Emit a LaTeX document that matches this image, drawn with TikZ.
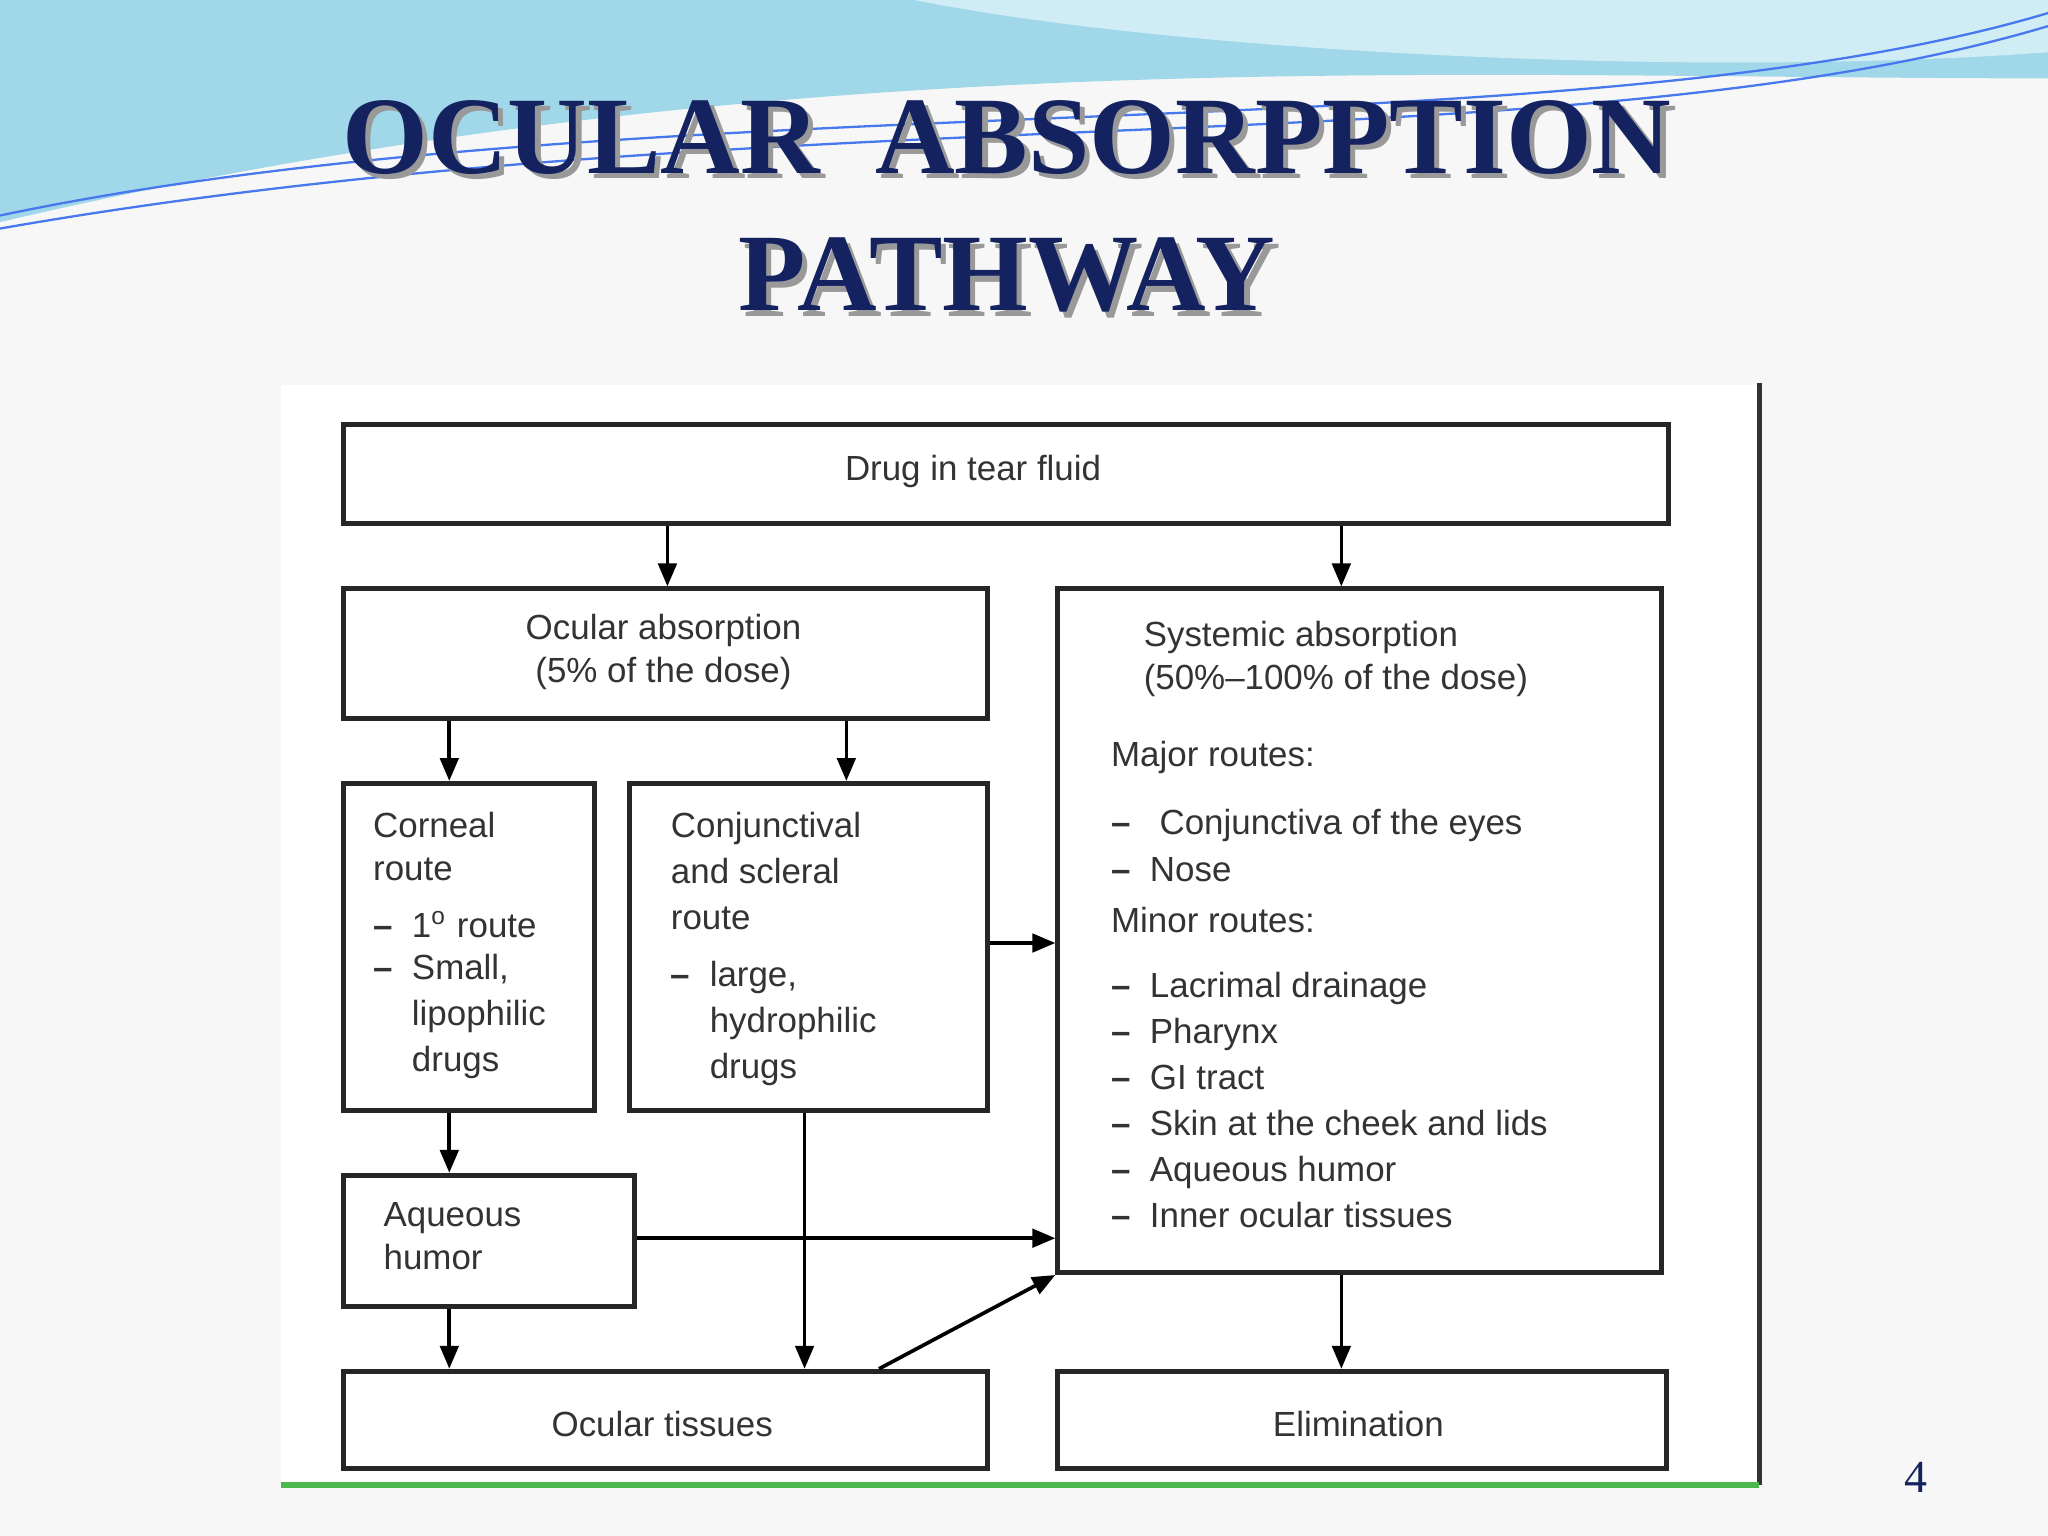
\documentclass[tikz,border=0pt]{standalone}
\usepackage{fontspec}
\setmainfont{Liberation Serif}
\newfontfamily\boxfont{Liberation Sans}
\usetikzlibrary{arrows.meta}
\definecolor{navy}{RGB}{20,35,95}
\definecolor{wave}{RGB}{120,200,225}
\newcommand{\dsh}{\textbf{–}}
\begin{document}
\begin{tikzpicture}[x=0.01cm,y=-0.01cm,
  bx/.style={draw=black!85,line width=1.1pt,fill=white,anchor=north west,inner sep=0pt},
  tx/.style={font=\boxfont\fontsize{7.6}{9.3}\selectfont,text=black!80,align=left,anchor=north west,inner sep=0pt},
  ar/.style={line width=0.8pt,-{Triangle[length=5pt,width=4pt]}}]
\useasboundingbox (0,0) rectangle (1568,1176);
\fill[black!3] (0,0) rectangle (1568,1176);
% top wave
\fill[wave!70] (0,0) -- (1568,0) -- (1568,60) .. controls (1100,60) and (600,30) .. (0,170) -- cycle;
\fill[wave!35] (700,0) -- (1568,0) -- (1568,40) .. controls (1300,60) and (900,40) .. (700,0) -- cycle;
\draw[wave!60!blue,line width=0.5pt] (0,165) .. controls (500,60) and (1200,120) .. (1568,10);
\draw[wave!60!blue,line width=0.5pt] (0,175) .. controls (600,70) and (1200,130) .. (1568,20);
% title
\node[font=\bfseries\fontsize{24}{30}\selectfont,text=black!40,align=center] at (775,162) {OCULAR\ \ ABSORPPTION\\PATHWAY};
\node[font=\bfseries\fontsize{24}{30}\selectfont,text=navy,align=center] at (771,158) {OCULAR\ \ ABSORPPTION\\PATHWAY};
% panel
\fill[white] (215,295) rectangle (1347,1137);
\draw[black!80,line width=1pt] (1347,293) -- (1347,1137);
\draw[green!60!black!70,line width=1.2pt] (215,1137) -- (1347,1137);
% boxes
\node[bx,minimum width=10.14cm,minimum height=0.76cm] (drug) at (261,323) {};
\node[bx,minimum width=4.93cm,minimum height=0.99cm] (ocu) at (261,449) {};
\node[bx,minimum width=4.62cm,minimum height=5.23cm] (sys) at (808,449) {};
\node[bx,minimum width=1.92cm,minimum height=2.5cm] (cor) at (261,598) {};
\node[bx,minimum width=2.74cm,minimum height=2.5cm] (con) at (480,598) {};
\node[bx,minimum width=2.23cm,minimum height=1.0cm] (aq) at (261,898) {};
\node[bx,minimum width=4.93cm,minimum height=0.74cm] (tis) at (261,1048) {};
\node[bx,minimum width=4.66cm,minimum height=0.74cm] (eli) at (808,1048) {};
% texts
\node[tx,anchor=center] (t1) at (745,361) {Drug in tear fluid};
\node[tx,align=center,anchor=center] (t2) at (508,499) {Ocular absorption\\(5\% of the dose)};
\node[tx] (t3) at (875,475) {Systemic absorption\\(50\%–100\% of the dose)};
\node[tx] (t4) at (850,567) {Major routes:};
\node[tx,font=\boxfont\fontsize{7.6}{10.2}\selectfont] (t5) at (850,619) {\dsh\ \ \ Conjunctiva of the eyes\\\dsh\ \ Nose};
\node[tx] (t6) at (850,694) {Minor routes:};
\node[tx,font=\boxfont\fontsize{7.6}{10.0}\selectfont] (t7) at (850,744) {\dsh\ \ Lacrimal drainage\\\dsh\ \ Pharynx\\\dsh\ \ GI tract\\\dsh\ \ Skin at the cheek and lids\\\dsh\ \ Aqueous humor\\\dsh\ \ Inner ocular tissues};
\node[tx] (t8) at (285,621) {Corneal\\route};
\node[tx] (t9) at (285,697) {\dsh\ \ 1\textsuperscript{o} route};
\node[tx,font=\boxfont\fontsize{7.6}{10.0}\selectfont] (t10) at (285,730) {\dsh\ \ Small,\\\phantom{\dsh\ \ }lipophilic\\\phantom{\dsh\ \ }drugs};
\node[tx,font=\boxfont\fontsize{7.6}{10.0}\selectfont] (t11) at (513,621) {Conjunctival\\and scleral\\route};
\node[tx,font=\boxfont\fontsize{7.6}{10.0}\selectfont] (t12) at (513,735) {\dsh\ \ large,\\\phantom{\dsh\ \ }hydrophilic\\\phantom{\dsh\ \ }drugs};
\node[tx] (t13) at (293,920) {Aqueous\\humor};
\node[tx,anchor=center] (t14) at (507,1090) {Ocular tissues};
\node[tx,anchor=center] (t15) at (1040,1090) {Elimination};
% arrows
\draw[ar] (drug.south -| 511,0) -- (ocu.north -| 511,0);
\draw[ar] (drug.south -| 1027,0) -- (sys.north -| 1027,0);
\draw[ar] (ocu.south -| 344,0) -- (cor.north -| 344,0);
\draw[ar] (ocu.south -| 648,0) -- (con.north -| 648,0);
\draw[ar] (cor.south -| 344,0) -- (aq.north -| 344,0);
\draw[ar] (aq.south -| 344,0) -- (tis.north -| 344,0);
\draw[ar] (con.south -| 616,0) -- (tis.north -| 616,0);
\draw[ar] (con.east |- 0,722) -- (sys.west |- 0,722);
\draw[ar] (aq.east |- 0,948) -- (sys.west |- 0,948);
\draw[ar] (tis.north -| 673,0) -- (sys.south west);
\draw[ar] (sys.south -| 1027,0) -- (eli.north -| 1027,0);
\node[font=\fontsize{10}{12}\selectfont,text=navy] (pg) at (1467,1131) {4};
\end{tikzpicture}
\end{document}
